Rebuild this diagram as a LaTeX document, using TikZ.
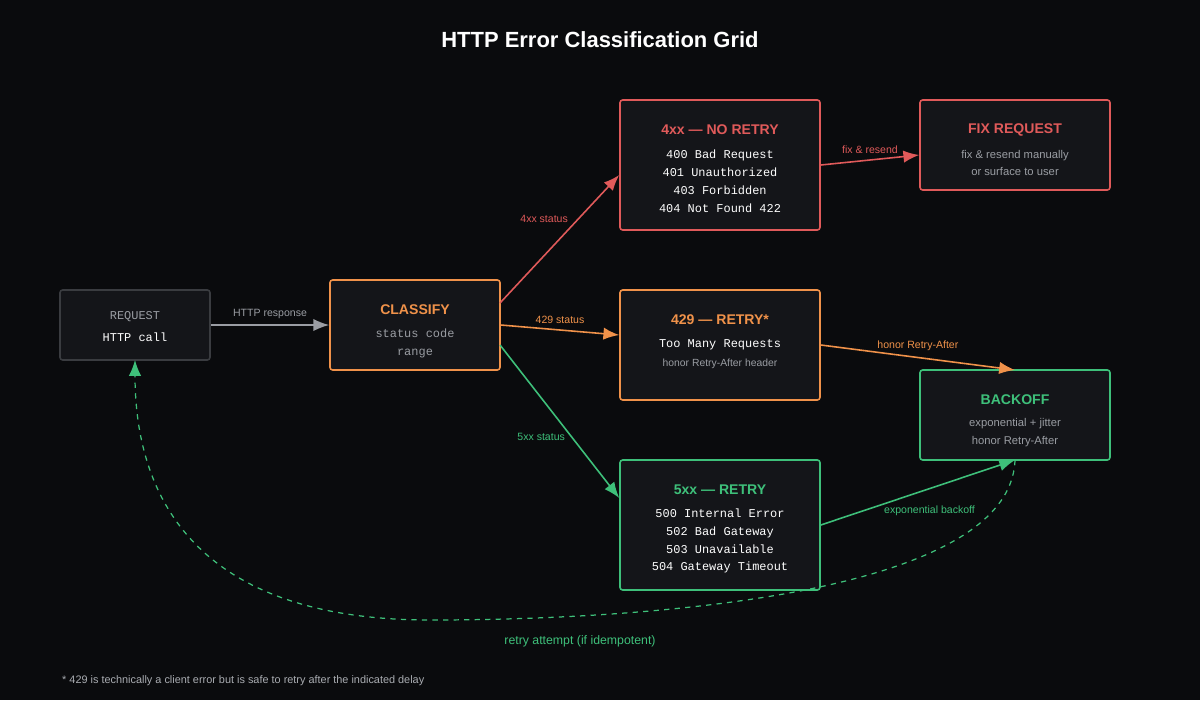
\documentclass[tikz,border=0pt]{standalone}
\usepackage{fontspec}
\setmainfont{Liberation Sans}
\setmonofont{Liberation Mono}
\usetikzlibrary{arrows.meta}
\definecolor{bg}{HTML}{0A0B0D}
\definecolor{boxfill}{HTML}{141519}
\definecolor{errred}{HTML}{E05A5A}
\definecolor{errorange}{HTML}{F0924A}
\definecolor{errgreen}{HTML}{3EC07A}
\definecolor{softgray}{HTML}{9A9DA3}
\definecolor{edgegray}{HTML}{3A3C40}
\tikzset{
  box/.style={draw, line width=0.9pt, rounded corners=1.5pt, fill=boxfill, align=center, inner sep=0pt},
  head/.style={font=\bfseries\fontsize{8}{10}\selectfont},
  mono/.style={font=\ttfamily\fontsize{6.8}{10.2}\selectfont, text=white, align=center},
  note/.style={font=\fontsize{6.4}{10.2}\selectfont, text=softgray, align=center},
  elabel/.style={font=\fontsize{6}{7}\selectfont},
  link/.style={line width=0.9pt, -{Latex[length=9pt,width=7pt]}}
}
\begin{document}
\begin{tikzpicture}[x=0.02cm, y=-0.02cm]
    \fill[bg] (0,0) rectangle (1200,700);
    \useasboundingbox (0,0) rectangle (1200,700);

    \node[font=\bfseries\fontsize{12.5}{14}\selectfont, text=white] (title) at (600,40) {HTTP Error Classification Grid};

    % boxes
    \node[box, draw=edgegray, minimum width=3cm, minimum height=1.4cm] (request) at (135,325) {};
    \node[mono, text=softgray] (reqA) at (135,317) {REQUEST};
    \node[mono] (reqB) at (135,337) {HTTP call};

    \node[box, draw=errorange, minimum width=3.4cm, minimum height=1.8cm] (classify) at (415,325) {};
    \node[head, text=errorange] (clsA) at (415,310) {CLASSIFY};
    \node[mono, text=softgray] (clsB) at (415,343) {status code\\range};

    \node[box, draw=errred, minimum width=4cm, minimum height=2.6cm] (noretry) at (720,165) {};
    \node[head, text=errred] (nrA) at (720,130) {4xx — NO RETRY};
    \node[mono] (nrB) at (720,181) {400 Bad Request\\401 Unauthorized\\403 Forbidden\\404 Not Found 422};

    \node[box, draw=errorange, minimum width=4cm, minimum height=2.2cm] (retry429) at (720,345) {};
    \node[head, text=errorange] (rtA) at (720,320) {429 — RETRY*};
    \node[mono] (rtB) at (720,345) {Too Many Requests};
    \node[note, font=\fontsize{5.9}{7}\selectfont] (rtC) at (720,364) {honor Retry-After header};

    \node[box, draw=errgreen, minimum width=4cm, minimum height=2.6cm] (retry5xx) at (720,525) {};
    \node[head, text=errgreen] (r5A) at (720,490) {5xx — RETRY};
    \node[mono] (r5B) at (720,541) {500 Internal Error\\502 Bad Gateway\\503 Unavailable\\504 Gateway Timeout};

    \node[box, draw=errred, minimum width=3.8cm, minimum height=1.8cm] (fixreq) at (1015,145) {};
    \node[head, text=errred] (fxA) at (1015,130) {FIX REQUEST};
    \node[note] (fxB) at (1015,163) {fix \& resend manually\\or surface to user};

    \node[box, draw=errgreen, minimum width=3.8cm, minimum height=1.8cm] (backoff) at (1015,415) {};
    \node[head, text=errgreen] (bkA) at (1015,400) {BACKOFF};
    \node[note] (bkB) at (1015,433) {exponential + jitter\\honor Retry-After};

    % connectors
    \coordinate (c4) at (500,303);
    \coordinate (c5) at (500,345);
    \coordinate (bkTop) at (1015,370);
    \coordinate (bkBot) at (1015,460);
    \coordinate (reqBot) at (135,360);
    \draw[link, softgray] (request.east) -- node[above, elabel] {HTTP response} (classify.west);
    \draw[link, errred] (c4) -- node[above=15pt, elabel, pos=0.37] {4xx status} (noretry.west |- 0,175);
    \draw[link, errorange] (classify.east) -- node[above, elabel, pos=0.5] {429 status} (retry429.west |- 0,335);
    \draw[link, errgreen] (c5) -- node[left, elabel, pos=0.6] {5xx status} (retry5xx.west |- 0,498);
    \draw[link, errred] (noretry.east) -- node[above, elabel, pos=0.5] {fix \& resend} (fixreq.west |- 0,155);
    \draw[link, errorange] (retry429.east) -- node[above, elabel, pos=0.5] {honor Retry-After} (bkTop);
    \draw[link, errgreen] (retry5xx.east) -- node[below=6pt, elabel, pos=0.56] {exponential backoff} (bkBot);
    \draw[link, errgreen, dashed, line width=0.7pt] (bkBot) .. controls (1010,600) and (620,620) .. (430,620)
        .. controls (180,620) and (135,480) .. (reqBot);
    \node[font=\fontsize{7}{8}\selectfont, text=errgreen] (retrylbl) at (580,641) {retry attempt (if idempotent)};

    \node[anchor=west, font=\fontsize{6.2}{7}\selectfont, text=softgray!85] (footnote) at (56,681) {* 429 is technically a client error but is safe to retry after the indicated delay};
\end{tikzpicture}
\end{document}
